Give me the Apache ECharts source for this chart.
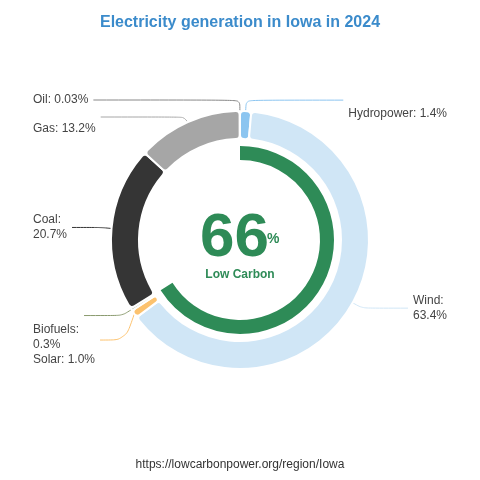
<!DOCTYPE html>
<html>
<head>
<meta charset="utf-8">
<script src="https://cdn.jsdelivr.net/npm/echarts@6/dist/echarts.min.js"></script>
<style>
html,body{margin:0;padding:0;background:#fff;}
#chart{width:480px;height:480px;}
</style>
</head>
<body>
<div id="chart"></div>
<script>
const categories = ['Hydropower', 'Wind', 'Solar', 'Biofuels', 'Coal', 'Gas', 'Oil'];
const values = [1.4, 63.4, 1.0, 0.3, 20.7, 13.2, 0.03];
const colors = ['#8cc5f0', '#d0e6f6', '#fcc26e', '#8a9a6e', '#353535', '#a6a6a6', '#888888'];
const lowCarbonShare = 66;

function fmt(v) { return v < 0.1 ? String(v) : v.toFixed(1); }
function labelText(i) { return categories[i] + ': ' + fmt(values[i]) + '%'; }

// label text vertical nudges relative to their label lines (layout only)
const labelDy = { Hydropower: 14, Gas: 12, Biofuels: 22, Solar: 20 };
const LABEL_FONT = '12px Liberation Sans, Arial, sans-serif';

const measureCtx = document.createElement('canvas').getContext('2d');
measureCtx.font = LABEL_FONT;
function widestLine(text, maxW) {
  const full = measureCtx.measureText(text).width;
  if (full <= maxW + 0.5) return full;
  const words = text.split(' ');
  let widest = 0, cur = '';
  words.forEach(w => {
    const t = cur ? cur + ' ' + w : w;
    if (cur && measureCtx.measureText(t).width > maxW) {
      widest = Math.max(widest, measureCtx.measureText(cur).width);
      cur = w;
    } else {
      cur = t;
    }
  });
  widest = Math.max(widest, measureCtx.measureText(cur).width);
  return widest;
}

const chart = echarts.init(document.getElementById('chart'));
chart.setOption({
  animation: false,
  title: [
    {
      text: 'Electricity generation in Iowa in 2024',
      left: 'center', top: 10,
      textStyle: { color: '#3b8bcb', fontSize: 16, fontWeight: 'bold', fontFamily: 'Liberation Sans, Arial, sans-serif' }
    },
    {
      text: 'https://lowcarbonpower.org/region/Iowa',
      left: 'center', top: 454,
      textStyle: { color: '#333', fontSize: 12, fontWeight: 'normal', fontFamily: 'Liberation Sans, Arial, sans-serif' }
    }
  ],
  graphic: [
    { type: 'text', left: 200, top: 208, style: { text: String(lowCarbonShare), fill: '#2e8b57', font: 'bold 62px Liberation Sans, Arial, sans-serif' } },
    { type: 'text', left: 267, top: 232, style: { text: '%', fill: '#2e8b57', font: 'bold 14px Liberation Sans, Arial, sans-serif' } },
    { type: 'text', left: 'center', top: 269, style: { text: 'Low Carbon', fill: '#2e8b57', font: 'bold 12px Liberation Sans, Arial, sans-serif' } }
  ],
  series: [
    {
      type: 'pie',
      center: [240, 240],
      radius: [101, 129],
      startAngle: 90,
      clockwise: true,
      avoidLabelOverlap: true,
      itemStyle: { borderColor: '#fff', borderWidth: 2, borderRadius: 4 },
      label: {
        position: 'outer',
        alignTo: 'edge',
        edgeDistance: 33,
        color: '#444',
        fontSize: 12,
        fontFamily: 'Liberation Sans, Arial, sans-serif',
        lineHeight: 15,
        overflow: 'break',
        formatter: p => labelText(p.dataIndex)
      },
      labelLine: { length: 11, length2: 20, smooth: 0.3, lineStyle: { width: 1 } },
      labelLayout: function (params) {
        const pts = params.labelLinePoints;
        const rect = params.labelRect;
        const out = {};
        if (pts && pts.length >= 3 && rect) {
          const np = pts.map(p => [p[0], p[1]]);
          const tw = widestLine(labelText(params.dataIndex), rect.width);
          const last = np[np.length - 1];
          if (last[0] < 240) {
            last[0] = Math.min(rect.x + tw + 5, np[np.length - 2][0]);
          } else {
            last[0] = Math.max(rect.x + rect.width - tw - 5, np[np.length - 2][0]);
          }
          out.labelLinePoints = np;
        }
        const dy = labelDy[categories[params.dataIndex]];
        if (dy) out.dy = dy;
        return out;
      },
      emphasis: { disabled: true },
      data: categories.map((c, i) => ({ name: c, value: values[i], itemStyle: { color: colors[i] } }))
    },
    {
      type: 'pie',
      center: [240, 240],
      radius: [80, 94],
      startAngle: 90,
      clockwise: true,
      silent: true,
      label: { show: false },
      labelLine: { show: false },
      data: [
        { value: lowCarbonShare, itemStyle: { color: '#2e8b57' } },
        { value: 100 - lowCarbonShare, itemStyle: { color: 'rgba(0,0,0,0)' } }
      ]
    }
  ]
});
</script>
</body>
</html>
